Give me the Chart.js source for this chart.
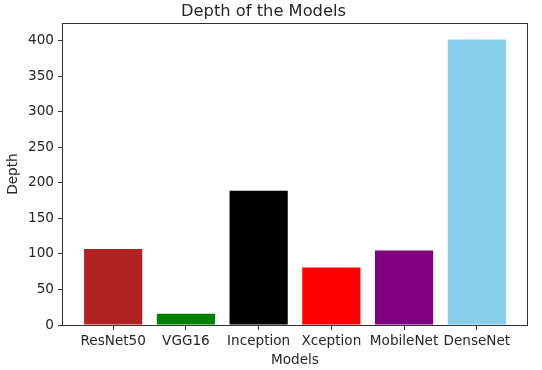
<!DOCTYPE html>
<html>
<head>
<meta charset="utf-8">
<script src="https://cdn.jsdelivr.net/npm/chart.js@4"></script>
<style>
  html, body { margin: 0; padding: 0; background: #fff; }
  #wrap { width: 542px; height: 370px; }
</style>
</head>
<body>
<div id="wrap"><canvas id="depthChart"></canvas></div>
<script>
const models = ["ResNet50", "VGG16", "Inception", "Xception", "MobileNet", "DenseNet"];
const depths = [107, 16, 189, 81, 105, 402];
const barColors = ["#B22222", "#008000", "#000000", "#FF0000", "#800080", "#87CEEB"];
const yTickStep = 50;

const textColor = "#262626";
const fontFamily = "'DejaVu Sans', sans-serif";

// draws the four spines round the plot, like matplotlib
const frame = {
    id: "frame",
    afterDraw(chart) {
        const a = chart.chartArea;
        const ctx = chart.ctx;
        ctx.save();
        ctx.strokeStyle = "#333";
        ctx.lineWidth = 1;
        ctx.strokeRect(Math.round(a.left) - 0.5, Math.round(a.top) + 0.5,
            Math.round(a.right - a.left) + 1, Math.round(a.bottom - a.top));
        ctx.restore();
    }
};

const ctx = document.getElementById("depthChart").getContext("2d");
new Chart(ctx, {
    type: "bar",
    data: {
        datasets: [{
            data: depths.map((d, i) => ({ x: i, y: d })),
            backgroundColor: barColors,
            borderWidth: 0,
            barPercentage: 0.8,
            categoryPercentage: 1.0
        }]
    },
    options: {
        responsive: true,
        maintainAspectRatio: false,
        animation: false,
        layout: { padding: { left: 0, right: 15, top: 0, bottom: 0 } },
        plugins: {
            legend: { display: false },
            tooltip: { enabled: false },
            title: {
                display: true,
                text: "Depth of the Models",
                color: textColor,
                font: { family: fontFamily, size: 16.3, weight: "normal" },
                padding: { top: 1.5, bottom: 2 }
            }
        },
        scales: {
            x: {
                type: "linear",
                offset: false,
                min: -0.69,
                max: models.length - 1 + 0.69,
                border: { display: false },
                grid: { offset: false, drawOnChartArea: false, drawTicks: true, tickLength: 5, tickColor: "#333" },
                ticks: {
                    stepSize: 1,
                    includeBounds: false,
                    autoSkip: false,
                    maxRotation: 0,
                    padding: 3,
                    color: textColor,
                    font: { family: fontFamily, size: 13.6 },
                    callback: (v) => models[v] ?? ""
                },
                title: {
                    display: true,
                    text: "Models",
                    color: textColor,
                    font: { family: fontFamily, size: 13.6 },
                    padding: { top: 0, bottom: 1 }
                },
                afterFit(scale) { scale.height = 45; }
            },
            y: {
                min: 0,
                max: 425,
                border: { display: false },
                grid: { drawOnChartArea: false, drawTicks: true, tickLength: 5, tickColor: "#333" },
                ticks: {
                    stepSize: yTickStep,
                    includeBounds: false,
                    padding: 4,
                    color: textColor,
                    font: { family: fontFamily, size: 13.6 }
                },
                title: {
                    display: true,
                    text: "Depth",
                    color: textColor,
                    font: { family: fontFamily, size: 13.6 },
                    padding: { top: 5, bottom: 0 }
                },
                afterFit(scale) { scale.width = 63; }
            }
        }
    },
    plugins: [frame]
});
</script>
</body>
</html>
